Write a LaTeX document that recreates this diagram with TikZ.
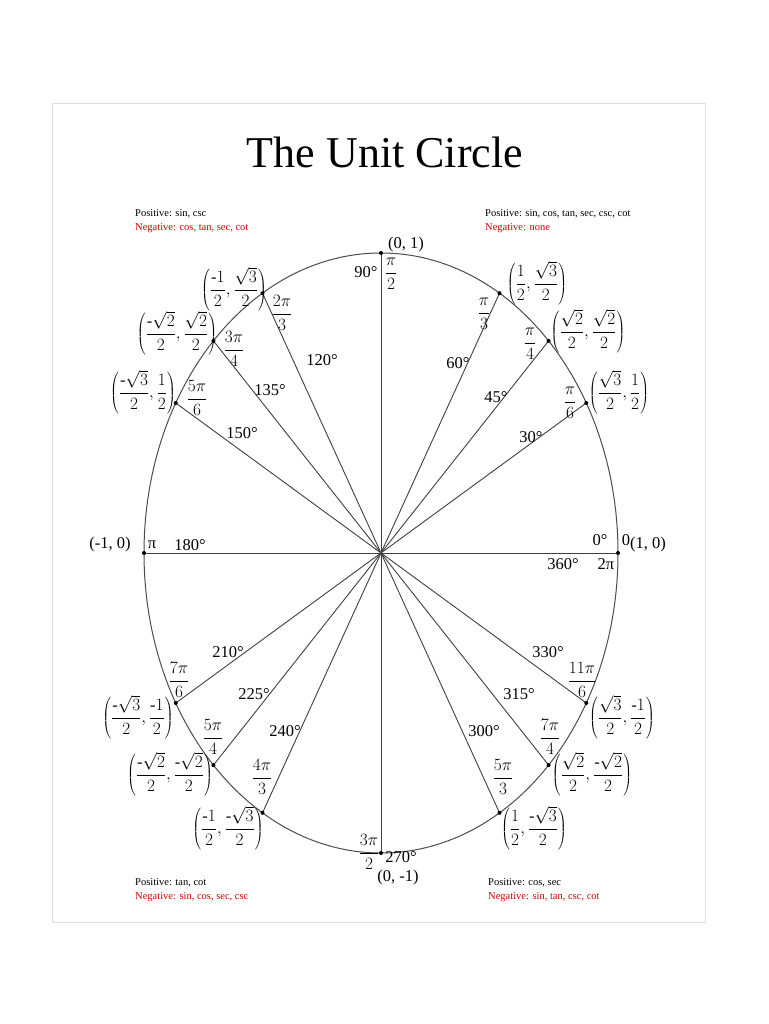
\documentclass[tikz,border=0pt]{standalone}
\usepackage{fontspec}
\setmainfont{Liberation Serif}
\begin{document}
\begin{tikzpicture}[x=1pt,y=-1pt,
  lab/.style={inner sep=0pt,font=\fontsize{16.5}{18}\selectfont\everymath{\displaystyle}},
  crd/.style={inner sep=0pt,font=\fontsize{16.5}{18}\selectfont\everymath{\displaystyle}},
  info/.style={inner sep=0pt,anchor=west,font=\fontsize{10.5}{12}\selectfont},
  neg/.style={info,text=red!80!black}]
\useasboundingbox (0,0) rectangle (768,1024);
\fill[white] (0,0) rectangle (768,1024);
\draw[black!12] (52,103) rectangle (705,922);
\node[inner sep=0pt,font=\fontsize{44}{48}\selectfont] (title) at (385,152) {The Unit Circle};
\node[info] (q2p) at (135,214) {Positive: sin, csc};
\node[neg] (q2n) at (135,228) {Negative: cos, tan, sec, cot};
\node[info] (q1p) at (485,214) {Positive: sin, cos, tan, sec, csc, cot};
\node[neg] (q1n) at (485,228) {Negative: none};
\node[info] (q3p) at (135,883) {Positive: tan, cot};
\node[neg] (q3n) at (135,897) {Negative: sin, cos, sec, csc};
\node[info] (q4p) at (488,883) {Positive: cos, sec};
\node[neg] (q4n) at (488,897) {Negative: sin, tan, csc, cot};
\coordinate (O) at (381,553);
\draw[black!70,line width=1pt] (O) ellipse [x radius=237, y radius=300];
\foreach \a in {0,30,45,60,90,120,135,150,180,210,225,240,270,300,315,330}{
  \coordinate (p\a) at ({381+237*cos(\a)},{553-300*sin(\a)});
  \draw[black!75,line width=0.9pt] (O) -- (p\a);
  \fill (p\a) circle (2);
}
\newcommand{\m}{\mbox{-}}
% axes labels
\node[crd] (l90) at (406,245) {(0, 1)};
\node[lab] at (366,272) {90°};
\node[lab] at (391,274) {$\frac{\pi}{2}$};
\node[crd] (l0) at (648,545) {(1, 0)};
\node[lab] at (600,540) {0°};
\node[lab] at (626,540) {0};
\node[lab] at (563,564) {360°};
\node[lab] at (606,564) {2π};
\node[crd] (l180) at (110,545) {(-1, 0)};
\node[lab] at (152,545) {π};
\node[lab] at (190,545) {180°};
\node[lab] at (369,852) {$\frac{3\pi}{2}$};
\node[lab] at (401,857) {270°};
\node[crd] (l270) at (398,878) {(0, -1)};
% Q1
\node[crd] at (537,283) {$\left(\frac{1}{2},\frac{\sqrt{3}}{2}\right)$};
\node[lab] at (484,314) {$\frac{\pi}{3}$};
\node[lab] at (458,363) {60°};
\node[crd] at (588,331) {$\left(\frac{\sqrt{2}}{2},\frac{\sqrt{2}}{2}\right)$};
\node[lab] at (530,344) {$\frac{\pi}{4}$};
\node[lab] at (496,397) {45°};
\node[crd] at (619,392) {$\left(\frac{\sqrt{3}}{2},\frac{1}{2}\right)$};
\node[lab] at (570,403) {$\frac{\pi}{6}$};
\node[lab] at (531,437) {30°};
% Q2
\node[crd] at (234,289) {$\left(\frac{\m1}{2},\frac{\sqrt{3}}{2}\right)$};
\node[lab] at (282,313) {$\frac{2\pi}{3}$};
\node[lab] at (322,360) {120°};
\node[crd] at (177,333) {$\left(\frac{\m\sqrt{2}}{2},\frac{\sqrt{2}}{2}\right)$};
\node[lab] at (234,349) {$\frac{3\pi}{4}$};
\node[lab] at (270,390) {135°};
\node[crd] at (143,392) {$\left(\frac{\m\sqrt{3}}{2},\frac{1}{2}\right)$};
\node[lab] at (197,398) {$\frac{5\pi}{6}$};
\node[lab] at (242,433) {150°};
% Q3
\node[lab] at (228,652) {210°};
\node[lab] at (179,680) {$\frac{7\pi}{6}$};
\node[crd] at (138,717) {$\left(\frac{\m\sqrt{3}}{2},\frac{\m1}{2}\right)$};
\node[lab] at (254,694) {225°};
\node[lab] at (213,737) {$\frac{5\pi}{4}$};
\node[crd] at (170,774) {$\left(\frac{\m\sqrt{2}}{2},\frac{\m\sqrt{2}}{2}\right)$};
\node[lab] at (285,731) {240°};
\node[lab] at (262,777) {$\frac{4\pi}{3}$};
\node[crd] at (228,828) {$\left(\frac{\m1}{2},\frac{\m\sqrt{3}}{2}\right)$};
% Q4
\node[lab] at (548,652) {330°};
\node[lab] at (582,680) {$\frac{11\pi}{6}$};
\node[crd] at (622,717) {$\left(\frac{\sqrt{3}}{2},\frac{\m1}{2}\right)$};
\node[lab] at (519,694) {315°};
\node[lab] at (550,737) {$\frac{7\pi}{4}$};
\node[crd] at (592,774) {$\left(\frac{\sqrt{2}}{2},\frac{\m\sqrt{2}}{2}\right)$};
\node[lab] at (484,731) {300°};
\node[lab] at (503,777) {$\frac{5\pi}{3}$};
\node[crd] at (534,828) {$\left(\frac{1}{2},\frac{\m\sqrt{3}}{2}\right)$};
\end{tikzpicture}
\end{document}
